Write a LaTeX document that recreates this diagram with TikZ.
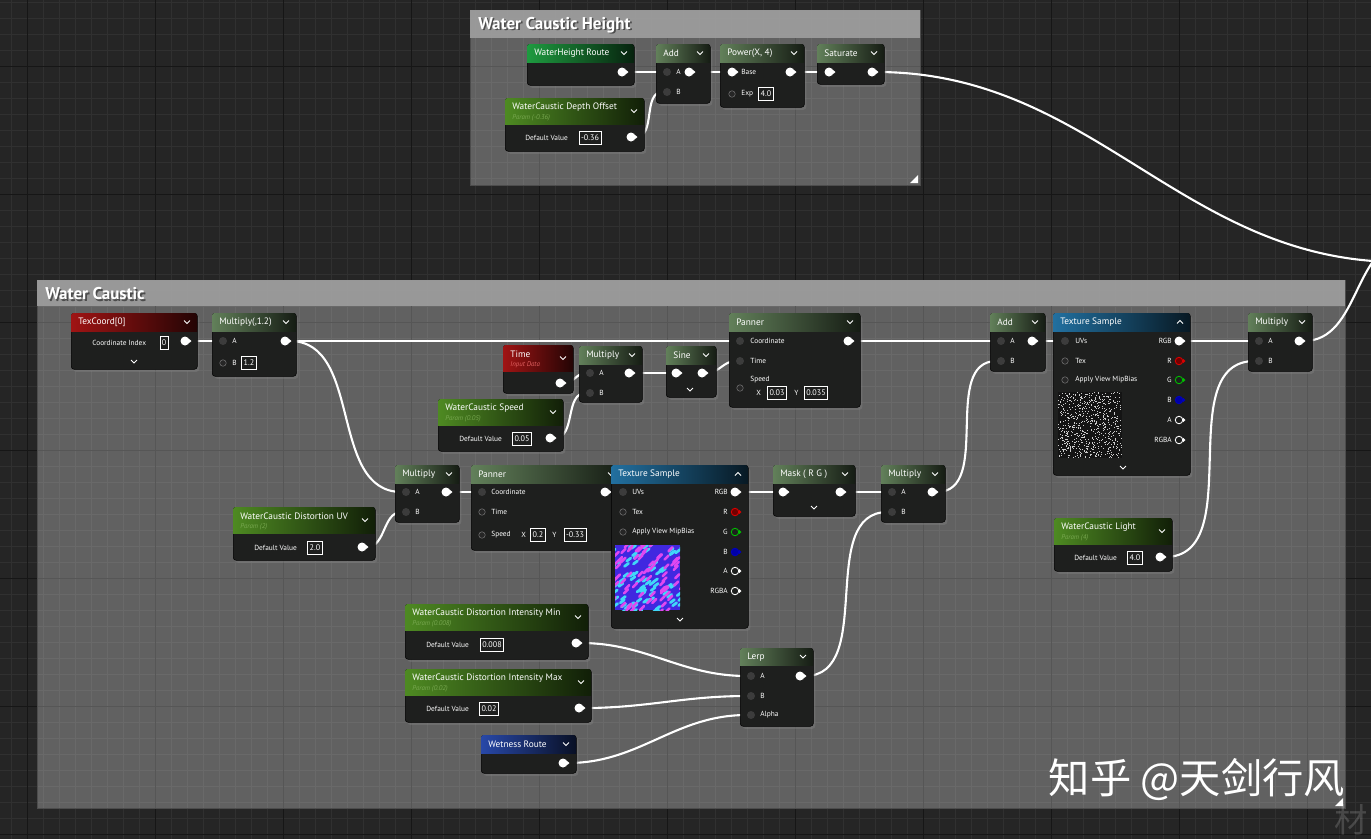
\documentclass[tikz,border=0pt]{standalone}
\usepackage{fontspec}
\setmainfont{PT Sans}
\newfontfamily\cjk{Noto Sans CJK SC}
\usetikzlibrary{shadows}
\definecolor{bgc}{HTML}{252525}
\definecolor{gridmin}{HTML}{303030}
\definecolor{gridmaj}{HTML}{161616}
\definecolor{nodebody}{HTML}{1E1F1E}
\definecolor{exprgreen}{HTML}{62805A}
\definecolor{paramgreen}{HTML}{4E8A22}
\definecolor{routegreen}{HTML}{1E9B40}
\definecolor{texred}{HTML}{A01414}
\definecolor{texblue}{HTML}{2270A0}
\definecolor{routeblue}{HTML}{2848A8}
\definecolor{pinoff}{HTML}{3C3C3C}
\definecolor{subgreen}{HTML}{78A850}
\definecolor{subred}{HTML}{E06060}
\definecolor{prevblue}{HTML}{4028E0}
\definecolor{prevcyan}{HTML}{40D8F8}
\definecolor{prevpink}{HTML}{E048F0}
\pgfdeclarelayer{bg}
\pgfdeclarelayer{wires}
\pgfsetlayers{bg,wires,main}
\newcommand\uenode[9]{%
\node[uebody,minimum width=#4*0.2mm,minimum height=#5*0.2mm] (#1) at (#2,#3) {};
\shade[left color=#6,right color=#6!22!black,rounded corners=1.6pt] (#2,#3) rectangle ++(#4,#7);
\shade[left color=#6,right color=#6!22!black] (#2,#3+#7/2) rectangle ++(#4,#7/2);
\node[ttl] (#1-t) at (#2+7,#3+9) {#8};
\draw[chev] (#2+#4-13,#3+#7/2-1.5*#9) -- ++(3,3*#9) -- ++(3,-3*#9);}
\newcommand\opin[3]{\node[outpin] (#1) at (#2,#3) {};
\fill[white] (#2+3.5,#3-2.5) -- (#2+6.5,#3) -- (#2+3.5,#3+2.5) -- cycle;}
\newcommand\cpin[5]{\node[ring=#4,fill=#5] (#1) at (#2,#3) {};
\fill[#4] (#2+4,#3-2.2) -- (#2+6.5,#3) -- (#2+4,#3+2.2) -- cycle;}

\begin{document}
\begin{tikzpicture}[x=0.2mm,y=-0.2mm,
  uebody/.style={anchor=north west,rectangle,rounded corners=1.6pt,fill=nodebody,draw=black,line width=0.3pt,inner sep=0,drop shadow={opacity=.45,shadow xshift=.4mm,shadow yshift=-.5mm}},
  ttl/.style={anchor=west,inner sep=0,text=white!88,font=\fontsize{5.3}{6}\selectfont},
  sub/.style={anchor=west,inner sep=0,font=\fontsize{3.9}{4.5}\selectfont\itshape},
  chev/.style={draw=white!80,line width=0.45pt},
  plabel/.style={anchor=west,inner sep=0,text=white!82,font=\fontsize{4.2}{5}\selectfont},
  rlabel/.style={plabel,anchor=east},
  valbox/.style={draw=white!70,line width=0.35pt,inner sep=1.1pt,text=white!85,font=\fontsize{4.6}{5}\selectfont,minimum height=2.5mm},
  inpin/.style={circle,inner sep=0,minimum size=1.6mm,fill=pinoff},
  offpin/.style={circle,inner sep=0,minimum size=1.3mm,fill=black!85,draw=black!55,line width=.3pt},
  outpin/.style={circle,inner sep=0,minimum size=1.8mm,fill=white},
  ring/.style={circle,inner sep=0,minimum size=1.5mm,draw=#1,line width=.5pt},
  wire/.style={draw=white!92,line width=0.42mm,out=0,in=180},
  ctitle/.style={anchor=west,inner sep=0,text=white,font=\fontsize{9.7}{11}\selectfont\bfseries}]
\useasboundingbox (0,0) rectangle (1371,839);

\begin{pgfonlayer}{bg}
\fill[bgc] (0,0) rectangle (1371,839);
\foreach \g in {11,27,...,1371} \draw[gridmin,line width=.35pt] (\g,0) -- (\g,839);
\foreach \g in {2,18,...,839} \draw[gridmin,line width=.35pt] (0,\g) -- (1371,\g);
\foreach \g in {27,155,...,1371} \draw[gridmaj,line width=.5pt] (\g,0) -- (\g,839);
\foreach \g in {66,194,...,839} \draw[gridmaj,line width=.5pt] (0,\g) -- (1371,\g);
\fill[white,opacity=.28] (470,10) rectangle (920,185);
\draw[black!70,line width=.4pt] (470,10) rectangle (920,185);
\fill[gray!78,opacity=.95] (470,10) rectangle (920,38);
\fill[white!80] (918,183) -- (910,183) -- (918,175) -- cycle;
\fill[white,opacity=.28] (37,280) rectangle (1345,808);
\draw[black!70,line width=.4pt] (37,280) rectangle (1345,808);
\fill[gray!78,opacity=.95] (37,280) rectangle (1345,306);
\fill[white!80] (1343,806) -- (1335,806) -- (1343,798) -- cycle;
\end{pgfonlayer}

\node[ctitle,text=black!70] at (479.6,26.6) {Water Caustic Height};
\node[ctitle] (cHeight) at (478,25) {Water Caustic Height};
\node[ctitle,text=black!70] at (46.6,295.6) {Water Caustic};
\node[ctitle] (cCaustic) at (45,294) {Water Caustic};

\uenode{whRoute}{527}{44}{107}{41}{routegreen}{18}{WaterHeight Route}{1}
\opin{whOut}{622}{72}

\uenode{addH}{656}{44}{54}{59}{exprgreen}{18}{Add}{1}
\node[inpin] (addHA) at (667,72) {};
\node[plabel] at (676,72) {A};
\node[inpin] (addHB) at (667,92) {};
\node[plabel] at (676,92) {B};
\opin{addHOut}{689}{72}

\uenode{powH}{720}{44}{84}{63}{exprgreen}{18}{Power(X, 4)}{1}
\opin{powBase}{732}{72}
\node[plabel] at (741,72) {Base};
\node[offpin] (powExp) at (732,94) {};
\node[plabel] at (741,94) {Exp};
\node[valbox] at (766,94) {4.0};
\opin{powOut}{790}{72}

\uenode{satH}{817}{44}{67}{40}{exprgreen}{18}{Saturate}{1}
\opin{satIn}{829}{72}
\opin{satOut}{872}{72}

\uenode{depthP}{505}{98}{139}{53}{paramgreen}{26}{WaterCaustic Depth Offset}{1}
\node[sub,text=subgreen] at (512,118) {Param (-0.36)};
\node[plabel] at (525,138) {Default Value};
\node[valbox] at (590,138) {-0.36};
\opin{depthOut}{631}{137}

\uenode{texCoord}{71}{313}{126}{56}{texred}{18}{TexCoord[0]}{1}
\node[plabel] at (92,343) {Coordinate Index};
\node[valbox] at (164,343) {0};
\opin{tcOut}{185}{341}
\draw[chev] (131,360) -- ++(3,3) -- ++(3,-3);

\uenode{mulScale}{212}{313}{84}{63}{exprgreen}{18}{Multiply(,1.2)}{1}
\node[inpin] (msA) at (223,341) {};
\node[plabel] at (232,341) {A};
\node[offpin] (msB) at (223,363) {};
\node[plabel] at (232,363) {B};
\node[valbox] at (249,363) {1.2};
\opin{msOut}{285}{341}

\uenode{timeIn}{503}{345}{70}{48}{texred}{26}{Time}{1}
\node[sub,text=subred] at (510,365) {Input Data};
\opin{timeOut}{560}{383}

\uenode{mulTime}{579}{346}{63}{56}{exprgreen}{18}{Multiply}{1}
\node[inpin] (mtA) at (590,373) {};
\node[plabel] at (599,373) {A};
\node[inpin] (mtB) at (590,393) {};
\node[plabel] at (599,393) {B};
\opin{mtOut}{629}{373}

\uenode{sine}{666}{346}{50}{51}{exprgreen}{18}{Sine}{1}
\opin{sineIn}{676}{373}
\opin{sineOut}{702}{373}
\draw[chev] (687,388) -- ++(3,3) -- ++(3,-3);

\uenode{pannerT}{729}{313}{131}{94}{exprgreen}{18}{Panner}{1}
\node[inpin] (ptCoord) at (740,341) {};
\node[plabel] at (750,341) {Coordinate};
\node[inpin] (ptTime) at (740,361) {};
\node[plabel] at (750,361) {Time};
\node[offpin] (ptSpeed) at (740,388) {};
\node[plabel] at (750,380) {Speed};
\node[plabel,text=white!45] at (756,393) {X};
\node[valbox] at (777,393) {0.03};
\node[plabel,text=white!45] at (794,393) {Y};
\node[valbox] at (816,393) {0.035};
\opin{ptOut}{848}{341}

\uenode{speedP}{438}{399}{125}{52}{paramgreen}{26}{WaterCaustic Speed}{1}
\node[sub,text=subgreen] at (445,419) {Param (0.05)};
\node[plabel] at (459,439) {Default Value};
\node[valbox] at (522,439) {0.05};
\opin{speedOut}{550}{438}

\uenode{addL}{990}{313}{55}{58}{exprgreen}{18}{Add}{1}
\node[inpin] (alA) at (1001,341) {};
\node[plabel] at (1010,341) {A};
\node[inpin] (alB) at (1001,361) {};
\node[plabel] at (1010,361) {B};
\opin{alOut}{1032}{341}

\uenode{texT}{1053}{313}{137}{162}{texblue}{18}{Texture Sample}{-1}
\node[inpin] (ttUV) at (1065,341) {};
\node[plabel] at (1075,341) {UVs};
\node[offpin] (ttTex) at (1065,361) {};
\node[plabel] at (1075,361) {Tex};
\node[offpin] (ttMip) at (1065,380) {};
\node[plabel] at (1075,380) {Apply View MipBias};
\opin{ttRGB}{1179}{341}
\node[rlabel] at (1172,341) {RGB};
\cpin{ttR}{1179}{361}{red!85!black}{red!45!black}
\node[rlabel] at (1172,361) {R};
\cpin{ttG}{1179}{380}{green!75!black}{nodebody}
\node[rlabel] at (1172,380) {G};
\cpin{ttB}{1179}{400}{blue!75!black}{blue!65!black}
\node[rlabel] at (1172,400) {B};
\cpin{ttA}{1179}{420}{white}{nodebody}
\node[rlabel] at (1172,420) {A};
\cpin{ttRGBA}{1179}{440}{white}{nodebody}
\node[rlabel] at (1172,440) {RGBA};
\fill[black!92] (1058,392) rectangle (1122,458);
\pgfmathsetseed{7}
\foreach \i in {1,...,700}{
  \pgfmathsetmacro\rx{1058+63*rnd}
  \pgfmathsetmacro\ry{392+65*rnd}
  \fill[gray!40] (\rx,\ry) rectangle ++(1,1);}
\draw[chev] (1120,466) -- ++(3,3) -- ++(3,-3);

\uenode{mulOut}{1248}{313}{64}{58}{exprgreen}{18}{Multiply}{1}
\node[inpin] (moA) at (1259,341) {};
\node[plabel] at (1268,341) {A};
\node[inpin] (moB) at (1259,361) {};
\node[plabel] at (1268,361) {B};
\opin{moOut}{1299}{341}

\uenode{lightP}{1054}{518}{118}{53}{paramgreen}{26}{WaterCaustic Light}{1}
\node[sub,text=subgreen] at (1061,538) {Param (4)};
\node[plabel] at (1074,558) {Default Value};
\node[valbox] at (1135,558) {4.0};
\opin{lightOut}{1160}{557}

\uenode{mulDist}{395}{465}{64}{57}{exprgreen}{18}{Multiply}{1}
\node[inpin] (mdA) at (406,492) {};
\node[plabel] at (415,492) {A};
\node[inpin] (mdB) at (406,512) {};
\node[plabel] at (415,512) {B};
\opin{mdOut}{446}{492}

\uenode{distUV}{233}{507}{142}{53}{paramgreen}{26}{WaterCaustic Distortion UV}{1}
\node[sub,text=subgreen] at (240,527) {Param (2)};
\node[plabel] at (254,548) {Default Value};
\node[valbox] at (315,548) {2.0};
\opin{distOut}{362}{547}

\uenode{pannerM}{471}{465}{150}{85}{exprgreen}{18}{Panner}{1}
\node[inpin] (pmCoord) at (482,492) {};
\node[plabel] at (491,492) {Coordinate};
\node[offpin] (pmTime) at (482,512) {};
\node[plabel] at (491,512) {Time};
\node[offpin] (pmSpeed) at (482,535) {};
\node[plabel] at (491,535) {Speed};
\node[plabel,text=white!45] at (521,535) {X};
\node[valbox] at (538,535) {0.2};
\node[plabel,text=white!45] at (552,535) {Y};
\node[valbox] at (575,535) {-0.33};
\opin{pmOut}{605}{492}

\uenode{texM}{611}{465}{137}{163}{texblue}{18}{Texture Sample}{-1}
\node[inpin] (tmUV) at (623,492) {};
\node[plabel] at (632,492) {UVs};
\node[offpin] (tmTex) at (623,512) {};
\node[plabel] at (632,512) {Tex};
\node[offpin] (tmMip) at (623,532) {};
\node[plabel] at (632,532) {Apply View MipBias};
\opin{tmRGB}{735}{492}
\node[rlabel] at (728,492) {RGB};
\cpin{tmR}{735}{512}{red!85!black}{red!45!black}
\node[rlabel] at (728,512) {R};
\cpin{tmG}{735}{532}{green!75!black}{nodebody}
\node[rlabel] at (728,532) {G};
\cpin{tmB}{735}{552}{blue!75!black}{blue!65!black}
\node[rlabel] at (728,552) {B};
\cpin{tmA}{735}{571}{white}{nodebody}
\node[rlabel] at (728,571) {A};
\cpin{tmRGBA}{735}{591}{white}{nodebody}
\node[rlabel] at (728,591) {RGBA};
\begin{scope}
\clip (615,545) rectangle (680,610);
\fill[prevblue] (615,545) rectangle (680,610);
\foreach \i in {1,...,90}{
  \pgfmathsetmacro\rx{610+75*rnd}
  \pgfmathsetmacro\ry{540+75*rnd}
  \draw[prevcyan,line width=.55mm,line cap=round] (\rx,\ry) -- ++(4,-3);}
\foreach \i in {1,...,80}{
  \pgfmathsetmacro\rx{610+75*rnd}
  \pgfmathsetmacro\ry{540+75*rnd}
  \draw[prevpink,line width=.5mm,line cap=round] (\rx,\ry) -- ++(4,-4);}
\end{scope}
\draw[chev] (677,618) -- ++(3,3) -- ++(3,-3);

\uenode{mask}{773}{465}{82}{51}{exprgreen}{18}{Mask ( R G )}{1}
\opin{maskIn}{783}{492}
\opin{maskOut}{840}{492}
\draw[chev] (811,506) -- ++(3,3) -- ++(3,-3);

\uenode{mulLerp}{881}{465}{64}{57}{exprgreen}{18}{Multiply}{1}
\node[inpin] (mlA) at (892,492) {};
\node[plabel] at (901,492) {A};
\node[inpin] (mlB) at (892,512) {};
\node[plabel] at (901,512) {B};
\opin{mlOut}{932}{492}

\uenode{minP}{405}{604}{183}{55}{paramgreen}{26}{WaterCaustic Distortion Intensity Min}{1}
\node[sub,text=subgreen] at (412,624) {Param (0.008)};
\node[plabel] at (426,645) {Default Value};
\node[valbox] at (492,645) {0.008};
\opin{minOut}{576}{643}

\uenode{maxP}{405}{669}{186}{53}{paramgreen}{26}{WaterCaustic Distortion Intensity Max}{1}
\node[sub,text=subgreen] at (412,689) {Param (0.02)};
\node[plabel] at (426,709) {Default Value};
\node[valbox] at (489,709) {0.02};
\opin{maxOut}{579}{708}

\uenode{lerp}{740}{648}{73}{78}{exprgreen}{17}{Lerp}{1}
\node[inpin] (lpA) at (751,676) {};
\node[plabel] at (760,676) {A};
\node[inpin] (lpB) at (751,696) {};
\node[plabel] at (760,696) {B};
\node[inpin] (lpAlpha) at (751,715) {};
\node[plabel] at (760,715) {Alpha};
\opin{lpOut}{800}{676}

\uenode{wetRoute}{481}{735}{95}{38}{routeblue}{18}{Wetness Route}{1}
\opin{wetOut}{563}{763}

\coordinate (satEnd) at (1400,262);
\coordinate (mulEnd) at (1410,240);

\begin{pgfonlayer}{wires}
\draw[wire] (whOut) to (addHA);
\draw[wire] (depthOut) to (addHB);
\draw[wire] (addHOut) to (powBase);
\draw[wire] (powOut) to (satIn);
\draw[wire] (satOut) to (satEnd);
\draw[wire] (tcOut) to (msA);
\draw[wire] (msOut) to (ptCoord);
\draw[wire] (msOut) to (mdA);
\draw[wire] (timeOut) to (mtA);
\draw[wire] (speedOut) to (mtB);
\draw[wire] (mtOut) to (sineIn);
\draw[wire] (sineOut) to (ptTime);
\draw[wire] (ptOut) to (alA);
\draw[wire] (alOut) to (ttUV);
\draw[wire] (ttRGB) to (moA);
\draw[wire] (lightOut) to (moB);
\draw[wire] (moOut) to (mulEnd);
\draw[wire] (distOut) to (mdB);
\draw[wire] (mdOut) to (pmCoord);
\draw[wire] (pmOut) to (tmUV);
\draw[wire] (tmRGB) to (maskIn);
\draw[wire] (maskOut) to (mlA);
\draw[wire] (lpOut) to (mlB);
\draw[wire] (mlOut) to (alB);
\draw[wire] (minOut) to (lpA);
\draw[wire] (maxOut) to (lpB);
\draw[wire] (wetOut) to (lpAlpha);
\end{pgfonlayer}

\node[font=\cjk\fontsize{19}{19}\selectfont,text=white,opacity=.16] (wmFaint) at (1351,820) {材};
\node[font=\cjk\fontsize{23.5}{24}\selectfont,text=white] (wm) at (1197,780) {知乎 @天剑行风};
\end{tikzpicture}
\end{document}
